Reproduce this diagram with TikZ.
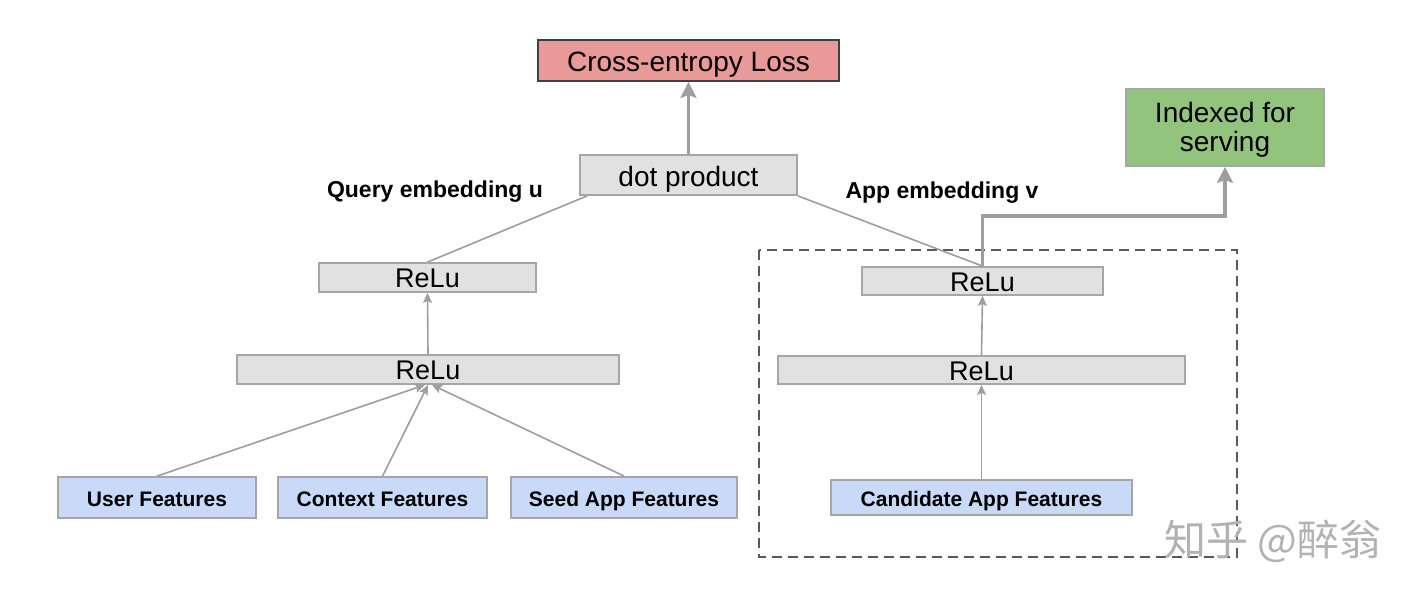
\documentclass[tikz,border=0pt]{standalone}
\usepackage{fontspec}
\setmainfont{Liberation Sans}
\newfontfamily\cjk{Noto Sans CJK SC}
\usetikzlibrary{arrows.meta}
\definecolor{lossfill}{HTML}{EA9999}
\definecolor{greenfill}{HTML}{93C47D}
\definecolor{grayfill}{HTML}{E1E1E1}
\definecolor{bluefill}{HTML}{C9DAF8}
\definecolor{edgegray}{HTML}{9E9E9E}
\definecolor{boxborder}{HTML}{A6A6A6}
\tikzset{
  basebox/.style={draw=boxborder, line width=0.9pt, inner sep=0pt, align=center},
  grbox/.style={basebox, fill=grayfill},
  featbox/.style={basebox, fill=bluefill, font=\fontsize{10.5}{12}\selectfont\bfseries, text height=9pt, text depth=0pt},
  bigtxt/.style={font=\fontsize{14}{16}\selectfont, text height=11.3pt, text depth=0pt},
  relutxt/.style={font=\fontsize{13.5}{15}\selectfont, text height=10.2pt, text depth=0pt},
  thinarrow/.style={draw=edgegray, line width=0.8pt, -{Stealth[length=5pt,width=4.5pt,inset=1pt]}},
  thinline/.style={draw=edgegray, line width=0.8pt},
  thickarrow/.style={draw=edgegray, line width=1.8pt, -{Stealth[length=8pt,width=8pt,inset=1.5pt]}},
  emblabel/.style={font=\fontsize{11.5}{13}\selectfont\bfseries, text height=8.2pt, text depth=0pt},
}
\begin{document}
\begin{tikzpicture}[x=0.5pt,y=-0.5pt]
\useasboundingbox[fill=white] (0,0) rectangle (1422,600);
% dashed group
\draw[dashed, draw=black!65, line width=0.8pt, dash pattern=on 5pt off 3pt] (759,250) rectangle (1237,557);
% nodes
\node[basebox, fill=lossfill, draw=black!75, bigtxt, minimum width=150.5pt, minimum height=20.5pt] (loss) at (688.5,60.5) {Cross-entropy Loss};
\node[grbox, bigtxt, minimum width=108.5pt, minimum height=20pt] (dot) at (688.5,175) {dot product};
\node[basebox, fill=greenfill, font=\fontsize{14}{15.5}\selectfont, text height=24pt, text depth=0pt, minimum width=99pt, minimum height=38.5pt] (idx) at (1225,127.5) {\shortstack{Indexed for\\[1pt]serving}};
\node[grbox, relutxt, minimum width=108.5pt, minimum height=14.5pt] (reluLb) at (427.5,277.5) {ReLu};
\node[grbox, relutxt, minimum width=191pt, minimum height=14.5pt] (reluLa) at (428,369.5) {ReLu};
\node[grbox, relutxt, minimum width=120.5pt, minimum height=14pt] (reluRb) at (982.5,281) {ReLu};
\node[grbox, relutxt, minimum width=203.5pt, minimum height=14pt] (reluRa) at (981.5,370) {ReLu};
\node[featbox, minimum width=99pt, minimum height=20.5pt] (user) at (157,497.5) {User Features};
\node[featbox, minimum width=104.5pt, minimum height=20.5pt] (ctx) at (382.5,497.5) {Context Features};
\node[featbox, minimum width=113pt, minimum height=20.5pt] (seed) at (624,497.5) {Seed App Features};
\node[featbox, minimum width=150.5pt, minimum height=17.5pt] (cand) at (981.5,497.5) {Candidate App Features};
\node[emblabel] (qlab) at (435,189) {Query embedding u};
\node[emblabel] (alab) at (942,190) {App embedding v};
\node[font=\cjk\fontsize{21}{23}\selectfont, text=black!30] (wm) at (1273,541) {知乎 @醉翁};
% connectors
\draw[thickarrow] (dot.north) -- (loss.south);
\draw[thinline] ([xshift=4pt]dot.south west) -- (reluLb.north);
\draw[thinline] (dot.south east) -- (reluRb.north);
\coordinate (turn) at (982.5,216);
\draw[thickarrow] (reluRb.north) -- (turn) -| (idx.south);
\draw[thinarrow] (reluLa.north) -- (reluLb.south);
\draw[thinarrow] (user.north) -- ([xshift=-1.5pt]reluLa.south);
\draw[thinarrow] (ctx.north) -- (reluLa.south);
\draw[thinarrow] (seed.north) -- ([xshift=2pt]reluLa.south);
\draw[thinarrow] (cand.north) -- (reluRa.south);
\draw[thinarrow] (reluRa.north) -- (reluRb.south);
\end{tikzpicture}
\end{document}
